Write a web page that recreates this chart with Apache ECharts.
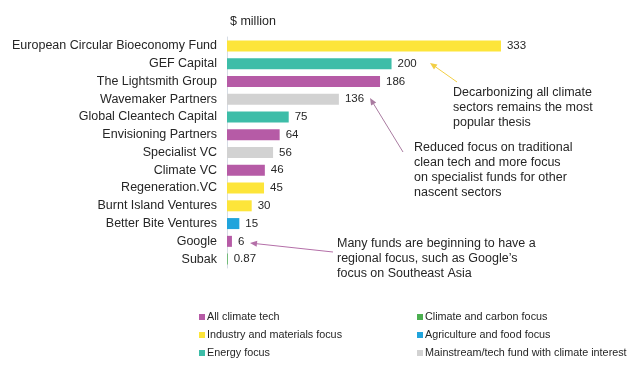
<!DOCTYPE html>
<html><head><meta charset="utf-8">
<script src="https://cdn.jsdelivr.net/npm/echarts@6/dist/echarts.min.js"></script>
<style>html,body{margin:0;padding:0;background:#fff}#c{width:640px;height:377px}</style>
</head><body><div id="c"></div>
<script>
const categories = ['European Circular Bioeconomy Fund','GEF Capital','The Lightsmith Group','Wavemaker Partners','Global Cleantech Capital','Envisioning Partners','Specialist VC','Climate VC','Regeneration.VC','Burnt Island Ventures','Better Bite Ventures','Google','Subak'];
const values = [333,200,186,136,75,64,56,46,45,30,15,6,0.87];
const focus = ['Industry and materials focus','Energy focus','All climate tech','Mainstream/tech fund with climate interest','Energy focus','All climate tech','Mainstream/tech fund with climate interest','All climate tech','Industry and materials focus','Industry and materials focus','Agriculture and food focus','All climate tech','Climate and carbon focus'];
const groups = ['All climate tech','Climate and carbon focus','Industry and materials focus','Agriculture and food focus','Energy focus','Mainstream/tech fund with climate interest'];
const colors = ['#B65BA6','#4CAF50','#FDE53A','#20A4DC','#3DBDA8','#D2D2D2'];

const txt = '#262626';
const FF = 'Liberation Sans, Arial, sans-serif';

const series = groups.map((g,i)=>({
  name: g, type:'bar', barWidth: 11, barGap:'-100%',
  itemStyle:{color: colors[i]},
  label:{show:true, position:'right', distance:6, color:txt, fontSize:11.5, fontFamily:FF,
    formatter: p => String(p.value)},
  data: values.map((v,k)=> focus[k]===g ? v : '-')
}));

function arrow(x1,y1,x2,y2,color){
  const dx=x2-x1, dy=y2-y1, L=Math.hypot(dx,dy), ux=dx/L, uy=dy/L;
  const bx=x2-ux*7, by=y2-uy*7, px=-uy*3, py=ux*3;
  return [
    {type:'line', shape:{x1,y1,x2:bx,y2:by}, style:{stroke:color, lineWidth:1}},
    {type:'polygon', shape:{points:[[x2,y2],[bx+px,by+py],[bx-px,by-py]]}, style:{fill:color}}
  ];
}
function textBlock(x,y,lines){
  return {type:'text', left:x, top:y, style:{text:lines.join('\n'), fill:txt, font:'12.5px '+FF, lineHeight:15}};
}
const legendBase = {orient:'vertical', top:311, padding:0, icon:'rect', itemWidth:6, itemHeight:6, itemGap:6,
  textStyle:{color:txt, fontSize:10.8, fontFamily:FF, lineHeight:12, padding:[0,0,0,-3]}, selectedMode:false};

const chart = echarts.init(document.getElementById('c'));
chart.setOption({
  animation:false,
  grid:{left:227, top:37, height:231, width:329.1},
  xAxis:{type:'value', min:0, max:400, show:false},
  yAxis:{type:'category', inverse:true, data:categories,
    axisLine:{show:true, lineStyle:{color:'#D6DCE4', width:1}}, axisTick:{show:false},
    axisLabel:{color:txt, fontSize:12.5, fontFamily:FF, margin:10}},
  legend:[
    Object.assign({}, legendBase, {data:['All climate tech','Industry and materials focus','Energy focus'], left:199}),
    Object.assign({}, legendBase, {data:['Climate and carbon focus','Agriculture and food focus','Mainstream/tech fund with climate interest'], left:417})
  ],
  graphic:[
    {type:'text', left:230, top:15, style:{text:'$ million', fill:txt, font:'12.5px '+FF}},
    textBlock(453, 85, ['Decarbonizing all climate','sectors remains the most','popular thesis']),
    textBlock(414, 140, ['Reduced focus on traditional','clean tech and more focus','on specialist funds for other','nascent sectors']),
    textBlock(337, 236, ['Many funds are beginning to have a','regional focus, such as Google\u2019s','focus on Southeast Asia']),
    ...arrow(457,82,430,63,'#F2CF45'),
    ...arrow(403,152,370,98,'#A97BA0'),
    ...arrow(333,252,250,243,'#B46FA8')
  ],
  series
});
</script></body></html>
